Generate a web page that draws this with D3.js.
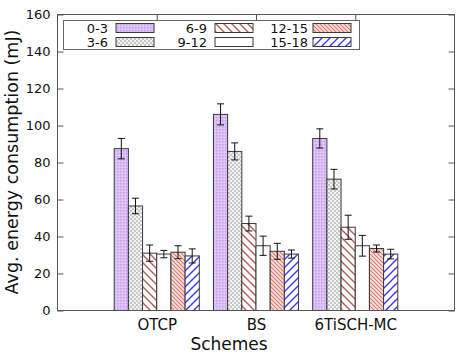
<!DOCTYPE html>
<html><head><meta charset="utf-8">
<script src="https://cdn.jsdelivr.net/npm/d3@7"></script>
<style>
html,body{margin:0;padding:0;background:#fff;}
svg{display:block;font-family:"DejaVu Sans",Verdana,sans-serif;}
</style></head>
<body>
<svg id="chart" width="474" height="355"></svg>
<script>
// ---- data ----
const schemes = ["OTCP", "BS", "6TiSCH-MC"];
const seriesLabels = ["0-3", "3-6", "6-9", "9-12", "12-15", "15-18"];
const mean0_3   = [87.5, 106, 93];
const mean3_6   = [56.5, 86, 71];
const mean6_9   = [31, 47, 45];
const mean9_12  = [30.5, 35, 35];
const mean12_15 = [31.5, 32, 33.5];
const mean15_18 = [29.5, 30.5, 30.5];
const err0_3    = [5.5, 5.7, 5.2];
const err3_6    = [4.2, 4.6, 5.3];
const err6_9    = [4.4, 4.0, 6.5];
const err9_12   = [2.0, 5.2, 5.6];
const err12_15  = [3.5, 4.3, 1.9];
const err15_18  = [3.8, 2.2, 2.6];
const yTicks = [0, 20, 40, 60, 80, 100, 120, 140, 160];

const means = [mean0_3, mean3_6, mean6_9, mean9_12, mean12_15, mean15_18];
const errs  = [err0_3, err3_6, err6_9, err9_12, err12_15, err15_18];

const svg = d3.select("#chart");
const L = 57.5, R = 454.5, T = 14.5, B = 310.5;

const x = d3.scaleLinear().domain([0, 4]).range([L, R]);
const y = d3.scaleLinear().domain([0, 160]).range([B, T]);
const unit = x(1) - x(0);
const bw = unit / 7;

// ---- patterns ----
const defs = svg.append("defs");
// 0-3 violet fine hatch
let p = defs.append("pattern").attr("id", "p0").attr("patternUnits", "userSpaceOnUse")
  .attr("width", 3).attr("height", 3);
p.append("rect").attr("width", 3).attr("height", 3).attr("fill", "#dcc0f6");
p.append("rect").attr("x", 0).attr("y", 0).attr("width", 1.5).attr("height", 1.5).attr("fill", "#c79ef0");
p.append("rect").attr("x", 1.5).attr("y", 1.5).attr("width", 1.5).attr("height", 1.5).attr("fill", "#e4ccf8");
// 3-6 gray checker
p = defs.append("pattern").attr("id", "p1").attr("patternUnits", "userSpaceOnUse")
  .attr("width", 4).attr("height", 4);
p.append("rect").attr("width", 4).attr("height", 4).attr("fill", "#f2f2f2");
p.append("rect").attr("x", 0).attr("y", 0).attr("width", 2).attr("height", 2).attr("fill", "#c8c8c8");
p.append("rect").attr("x", 2).attr("y", 2).attr("width", 2).attr("height", 2).attr("fill", "#c8c8c8");
// 6-9 sparse "\" red-brown lines
p = defs.append("pattern").attr("id", "p2").attr("patternUnits", "userSpaceOnUse")
  .attr("width", 8).attr("height", 8);
p.append("rect").attr("width", 8).attr("height", 8).attr("fill", "#fff");
p.append("path").attr("d", "M-2,-2 L10,10 M-2,6 L2,10 M6,-2 L10,2")
  .attr("stroke", "#b85a5a").attr("stroke-width", 1.4);
// 9-12 empty (white)
// 12-15 dense "\" salmon lines
p = defs.append("pattern").attr("id", "p4").attr("patternUnits", "userSpaceOnUse")
  .attr("width", 4).attr("height", 4);
p.append("rect").attr("width", 4).attr("height", 4).attr("fill", "#fbe4e0");
p.append("path").attr("d", "M-1,-1 L5,5 M-1,3 L1,5 M3,-1 L5,1")
  .attr("stroke", "#e57a72").attr("stroke-width", 1.2);
// 15-18 "/" blue lines
p = defs.append("pattern").attr("id", "p5").attr("patternUnits", "userSpaceOnUse")
  .attr("width", 8).attr("height", 8);
p.append("rect").attr("width", 8).attr("height", 8).attr("fill", "#fff");
p.append("path").attr("d", "M-2,10 L10,-2 M-2,2 L2,-2 M6,10 L10,6")
  .attr("stroke", "#3a3ad8").attr("stroke-width", 1.4);

const fills = ["url(#p0)", "url(#p1)", "url(#p2)", "#ffffff", "url(#p4)", "url(#p5)"];

// ---- frame ----
svg.append("rect").attr("x", L).attr("y", T).attr("width", R - L).attr("height", B - T)
  .attr("fill", "#fff").attr("stroke", "none");

// ---- bars ----
const bars = svg.append("g");
seriesLabels.forEach((s, si) => {
  schemes.forEach((sc, gi) => {
    const cx = x(gi + 1);
    const x0 = cx + (si - 3) * bw;
    const v = means[si][gi];
    bars.append("rect")
      .attr("x", x0).attr("y", y(v))
      .attr("width", bw).attr("height", y(0) - y(v))
      .attr("fill", fills[si]).attr("stroke", "#3a3a3a").attr("stroke-width", 1);
  });
});

// ---- error bars ----
const eb = svg.append("g").attr("stroke", "#111").attr("stroke-width", 1).attr("fill", "none");
seriesLabels.forEach((s, si) => {
  schemes.forEach((sc, gi) => {
    const cx = x(gi + 1) + (si - 3) * bw + bw / 2;
    const v = means[si][gi], e = errs[si][gi];
    eb.append("line").attr("x1", cx).attr("x2", cx).attr("y1", y(v + e)).attr("y2", y(v - e));
    eb.append("line").attr("x1", cx - 3.5).attr("x2", cx + 3.5).attr("y1", y(v + e)).attr("y2", y(v + e));
    eb.append("line").attr("x1", cx - 3.5).attr("x2", cx + 3.5).attr("y1", y(v - e)).attr("y2", y(v - e));
  });
});

// ---- axes ----
const axisColor = "#555";
const yAxis = svg.append("g").attr("transform", `translate(${L},0)`)
  .call(d3.axisLeft(y).tickValues(yTicks).tickSizeInner(-6).tickSizeOuter(0).tickPadding(7));
yAxis.select(".domain").remove();
yAxis.selectAll(".tick line").attr("stroke", axisColor);
yAxis.selectAll(".tick text").attr("font-size", 13).attr("fill", "#111")
  .attr("font-family", "DejaVu Sans");

const yAxisR = svg.append("g").attr("transform", `translate(${R},0)`)
  .call(d3.axisRight(y).tickValues(yTicks).tickSizeInner(-6).tickSizeOuter(0).tickFormat(""));
yAxisR.select(".domain").remove();
yAxisR.selectAll(".tick line").attr("stroke", axisColor);

const xAxisTop = svg.append("g").attr("transform", `translate(0,${T})`)
  .call(d3.axisTop(x).tickValues([1, 2, 3]).tickSizeInner(-6).tickSizeOuter(0).tickFormat(""));
xAxisTop.select(".domain").remove();
xAxisTop.selectAll(".tick line").attr("stroke", axisColor);

const xAxis = svg.append("g").attr("transform", `translate(0,${B})`)
  .call(d3.axisBottom(x).tickValues([1, 2, 3]).tickSize(0).tickPadding(9)
    .tickFormat((d) => schemes[d - 1]));
xAxis.select(".domain").remove();
xAxis.selectAll(".tick text").attr("font-size", 15).attr("fill", "#111")
  .attr("font-family", "DejaVu Sans");

svg.append("rect").attr("x", L).attr("y", T).attr("width", R - L).attr("height", B - T)
  .attr("fill", "none").attr("stroke", axisColor).attr("stroke-width", 1);

// ---- axis titles ----
svg.append("text").attr("x", 229).attr("y", 350).attr("text-anchor", "middle")
  .attr("font-size", 17).attr("fill", "#111").text("Schemes");
svg.append("text").attr("transform", "translate(18,162) rotate(-90)")
  .attr("text-anchor", "middle").attr("font-size", 17.5).attr("fill", "#111")
  .text("Avg. energy consumption (mJ)");

// ---- legend ----
const lg = svg.append("g");
lg.append("rect").attr("x", 63.5).attr("y", 20.5).attr("width", 296).attr("height", 29)
  .attr("fill", "#fff").attr("stroke", "#666").attr("stroke-width", 1);
const colText = [108, 207, 308];
const colSw = [116, 215, 313];
const rowY = [23.5, 37.5];
seriesLabels.forEach((s, i) => {
  const c = Math.floor(i / 2), r = i % 2;
  lg.append("text").attr("x", colText[c]).attr("y", rowY[r] + 4.5)
    .attr("dy", "0.36em").attr("text-anchor", "end").attr("font-size", 13)
    .attr("fill", "#111").text(s);
  lg.append("rect").attr("x", colSw[c]).attr("y", rowY[r]).attr("width", 38).attr("height", 9)
    .attr("fill", fills[i]).attr("stroke", "#3a3a3a").attr("stroke-width", 1);
});
</script>
</body></html>
